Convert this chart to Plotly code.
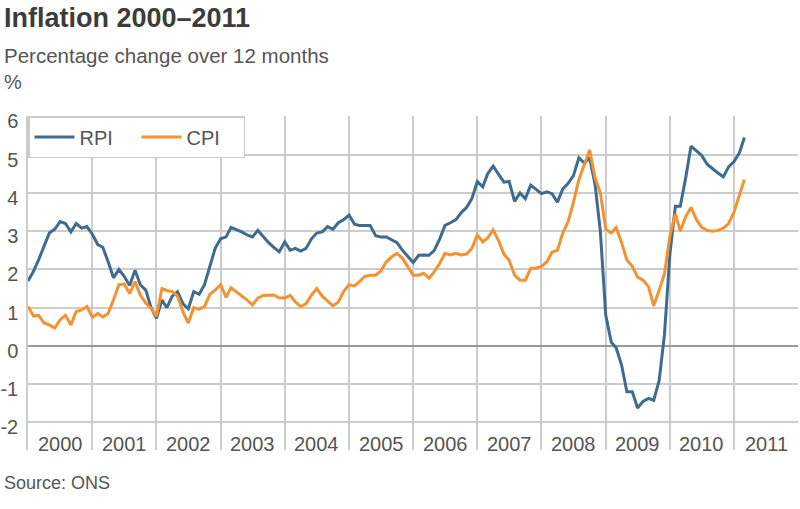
import plotly.graph_objects as go
import pandas as pd

# Monthly 12-month inflation rates, Dec 1999 .. Feb 2011 (each plotted at month end)
first_month = "1999-12"
rpi_values = [
    1.7,
    1.95, 2.25, 2.6, 2.95, 3.05, 3.25, 3.2, 2.98, 3.2, 3.08, 3.12, 2.92,      # 2000
    2.65, 2.58, 2.2, 1.78, 2.0, 1.82, 1.58, 1.98, 1.6, 1.46, 1.0, 0.72,       # 2001
    1.2, 1.0, 1.3, 1.42, 1.1, 0.97, 1.42, 1.35, 1.6, 2.05, 2.55, 2.8,        # 2002
    2.85, 3.1, 3.04, 2.98, 2.9, 2.85, 3.02, 2.85, 2.7, 2.57, 2.46, 2.72,      # 2003
    2.5, 2.55, 2.48, 2.55, 2.8, 2.95, 2.98, 3.12, 3.05, 3.22, 3.3, 3.42,      # 2004
    3.18, 3.15, 3.15, 3.15, 2.88, 2.85, 2.85, 2.78, 2.7, 2.5, 2.35, 2.18,     # 2005
    2.37, 2.38, 2.37, 2.5, 2.8, 3.15, 3.22, 3.3, 3.48, 3.62, 3.85, 4.3,       # 2006
    4.16, 4.5, 4.7, 4.5, 4.28, 4.3, 3.78, 4.0, 3.85, 4.2, 4.08, 3.98,         # 2007
    4.03, 3.98, 3.76, 4.1, 4.25, 4.45, 4.92, 4.78, 4.92, 4.22, 3.0, 0.8,      # 2008
    0.1, -0.05, -0.5, -1.2, -1.2, -1.62, -1.45, -1.37, -1.42, -0.9, 0.3, 2.4,  # 2009
    3.65, 3.65, 4.4, 5.22, 5.1, 4.98, 4.75, 4.62, 4.52, 4.42, 4.68, 4.82,     # 2010
    5.05, 5.45,                                                               # 2011
]
cpi_values = [
    1.03,
    0.78, 0.8, 0.6, 0.55, 0.47, 0.68, 0.8, 0.55, 0.9, 0.94, 1.03, 0.75,       # 2000
    0.85, 0.76, 0.85, 1.2, 1.6, 1.62, 1.37, 1.68, 1.33, 1.12, 0.98, 0.78,     # 2001
    1.5, 1.45, 1.42, 1.3, 0.88, 0.6, 1.0, 0.96, 1.03, 1.35, 1.46, 1.6,        # 2002
    1.27, 1.52, 1.42, 1.3, 1.2, 1.07, 1.25, 1.32, 1.33, 1.33, 1.25, 1.25,     # 2003
    1.32, 1.15, 1.03, 1.1, 1.33, 1.5, 1.3, 1.18, 1.05, 1.15, 1.42, 1.6,       # 2004
    1.57, 1.68, 1.82, 1.85, 1.85, 1.96, 2.2, 2.33, 2.42, 2.29, 2.07, 1.85,    # 2005
    1.85, 1.9, 1.77, 1.94, 2.16, 2.42, 2.38, 2.42, 2.38, 2.4, 2.55, 2.9,      # 2006
    2.72, 2.82, 3.03, 2.76, 2.4, 2.24, 1.85, 1.72, 1.72, 2.03, 2.03, 2.08,    # 2007
    2.2, 2.45, 2.5, 2.95, 3.25, 3.75, 4.35, 4.72, 5.12, 4.4, 4.0, 3.05,       # 2008
    2.95, 3.1, 2.7, 2.25, 2.08, 1.8, 1.72, 1.55, 1.05, 1.46, 1.88, 2.88,      # 2009
    3.45, 3.0, 3.38, 3.62, 3.3, 3.1, 3.02, 3.0, 3.02, 3.08, 3.2, 3.5,         # 2010
    3.95, 4.35,                                                               # 2011
]
year_labels = ["2000", "2001", "2002", "2003", "2004", "2005",
               "2006", "2007", "2008", "2009", "2010", "2011"]
y_ticks = [-2, -1, 0, 1, 2, 3, 4, 5, 6]
y_tick_text = ["-2", "-1", "0", "1", "2", "3", "4", "5", "6"]

# month-end positions (end of month == first day of the following month)
dates = pd.date_range(pd.Period(first_month, "M").to_timestamp() + pd.offsets.MonthBegin(1),
                      periods=len(rpi_values), freq="MS")

FONT = "Liberation Sans, Arial, Helvetica, sans-serif"
TXT = "#555555"
RPI_C = "#3e6b8f"
CPI_C = "#f5922f"

fig = go.Figure()
fig.add_trace(go.Scatter(x=dates, y=rpi_values, name="RPI", mode="lines",
                         line=dict(color=RPI_C, width=3)))
fig.add_trace(go.Scatter(x=dates, y=cpi_values, name="CPI", mode="lines",
                         line=dict(color=CPI_C, width=3)))

W, H = 800, 509
ml, mr, mt, mb = 28, 2, 116, 59
ph = H - mt - mb


def py(p):
    return (H - mb - p) / ph


def px(p):
    return (p - ml) / (W - ml - mr)


ann = []
for yl in year_labels:
    ann.append(dict(x=f"{yl}-07-02", y=-2.55, xref="x", yref="y", text=yl,
                    showarrow=False, xanchor="center", yanchor="middle",
                    font=dict(size=20, color=TXT, family=FONT)))
ann += [
    dict(x=px(2), y=py(18), xref="paper", yref="paper", text="<b>Inflation 2000–2011</b>",
         showarrow=False, xanchor="left", yanchor="middle",
         font=dict(size=27, color="#3c3c3c", family=FONT)),
    dict(x=px(2), y=py(56), xref="paper", yref="paper", text="Percentage change over 12 months",
         showarrow=False, xanchor="left", yanchor="middle",
         font=dict(size=20.5, color=TXT, family=FONT)),
    dict(x=px(2), y=py(82), xref="paper", yref="paper", text="%",
         showarrow=False, xanchor="left", yanchor="middle",
         font=dict(size=20, color=TXT, family=FONT)),
    dict(x=px(2), y=py(483), xref="paper", yref="paper", text="Source: ONS",
         showarrow=False, xanchor="left", yanchor="middle",
         font=dict(size=18, color=TXT, family=FONT)),
]

fig.update_layout(
    width=W, height=H,
    margin=dict(l=ml, r=mr, t=mt, b=mb, pad=0, autoexpand=False),
    paper_bgcolor="white", plot_bgcolor="white",
    font=dict(family=FONT, color=TXT),
    annotations=ann,
    showlegend=True,
    legend=dict(orientation="h", x=0, y=1, xanchor="left", yanchor="top",
                bgcolor="white", bordercolor="#cccccc", borderwidth=1.5,
                font=dict(size=20, color=TXT, family=FONT),
                itemwidth=40, entrywidth=52, entrywidthmode="pixels",
                tracegroupgap=0),
    xaxis=dict(type="date", range=["1999-12-31 18:00", "2011-12-31"],
               tick0="2000-01-01", dtick="M12", showticklabels=False,
               showgrid=True, gridcolor="#cccccc", gridwidth=1.5,
               zeroline=False, showline=False, ticks="", automargin=False),
    yaxis=dict(range=[-2.72, 6.01], tickvals=y_ticks, ticktext=y_tick_text, ticks="",
               showgrid=True, gridcolor="#cccccc", gridwidth=1.5,
               zeroline=True, zerolinecolor="#999999", zerolinewidth=2.2,
               showline=True, linecolor="#cccccc", linewidth=1.5,
               tickfont=dict(size=20, color=TXT, family=FONT),
               ticklabelstandoff=4, ticklabelshift=5, automargin=False),
)

fig.write_html("out.html", config={"displayModeBar": False},
               post_script="document.body.style.margin='0px';"
                           "document.body.style.overflow='hidden';")
